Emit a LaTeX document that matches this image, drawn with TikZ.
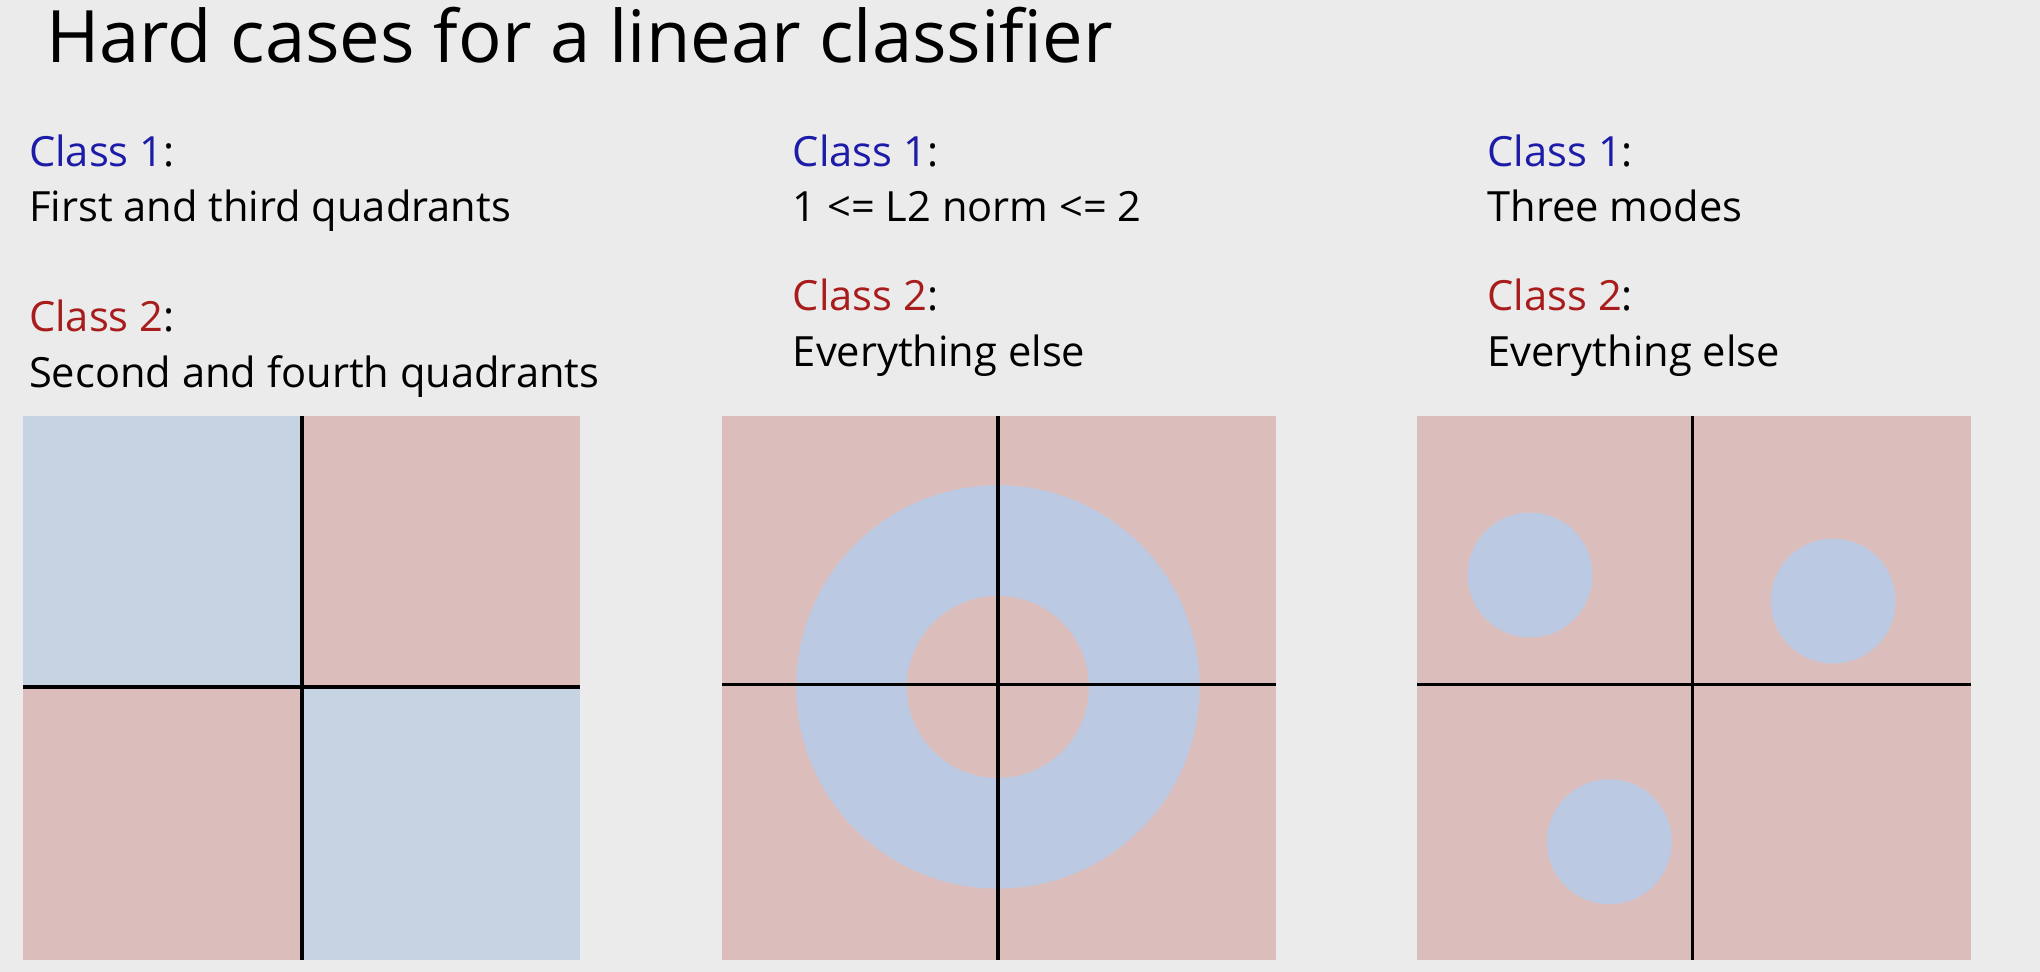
\documentclass[tikz,border=0pt]{standalone}
\usepackage{fontspec}
\setmainfont{Open Sans}
\definecolor{bg}{HTML}{EBEBEB}
\definecolor{cb}{HTML}{C5D3E3}
\definecolor{cp}{HTML}{DBBEBB}
\definecolor{cr}{HTML}{BCC9E2}
\definecolor{c1}{HTML}{1C1CA8}
\definecolor{c2}{HTML}{A81C1C}
\begin{document}
\begin{tikzpicture}[x=0.5pt,y=-0.5pt,
  lbl/.style={anchor=base west,inner sep=0pt,font=\fontsize{16}{18}\selectfont},
  axis/.style={line width=1.4pt,black}]
\fill[bg] (0,0) rectangle (1568,747);
\useasboundingbox (0,0) rectangle (1568,747);
\node[anchor=base west,inner sep=0pt,font=\fontsize{27.8}{30}\selectfont] (title) at (35,48) {Hard cases for a linear classifier};
% panel 1 text
\node[lbl] (a1) at (22,128) {\textcolor{c1}{Class 1}:};
\node[lbl] (a2) at (22,170) {First and third quadrants};
\node[lbl] (a3) at (22,255) {\textcolor{c2}{Class 2}:};
\node[lbl] (a4) at (22,298) {Second and fourth quadrants};
% panel 2 text
\node[lbl] (b1) at (609,128) {\textcolor{c1}{Class 1}:};
\node[lbl] (b2) at (609,170) {1 <= L2 norm <= 2};
\node[lbl] (b3) at (609,239) {\textcolor{c2}{Class 2}:};
\node[lbl] (b4) at (609,282) {Everything else};
% panel 3 text
\node[lbl] (c1n) at (1143,128) {\textcolor{c1}{Class 1}:};
\node[lbl] (c2n) at (1143,170) {Three modes};
\node[lbl] (c3n) at (1143,239) {\textcolor{c2}{Class 2}:};
\node[lbl] (c4n) at (1143,282) {Everything else};
% panel 1
\fill[cb] (18,320) rectangle (232,528);
\fill[cp] (232,320) rectangle (446,528);
\fill[cp] (18,528) rectangle (232,738);
\fill[cb] (232,528) rectangle (446,738);
\draw[axis] (232,320) -- (232,738);
\draw[axis] (18,528) -- (446,528);
% panel 2
\fill[cp] (555,320) rectangle (981,738);
\fill[cr,even odd rule] (767,528) circle[radius=155] (767,528) circle[radius=70];
\draw[axis] (767,320) -- (767,738);
\draw[axis] (555,526) -- (981,526);
% panel 3
\fill[cp] (1089,320) rectangle (1515,738);
\fill[cr] (1176,442) circle[radius=48];
\fill[cr] (1409,462) circle[radius=48];
\fill[cr] (1237,647) circle[radius=48];
\draw[axis] (1301,320) -- (1301,738);
\draw[axis] (1089,526) -- (1515,526);
\end{tikzpicture}
\end{document}
